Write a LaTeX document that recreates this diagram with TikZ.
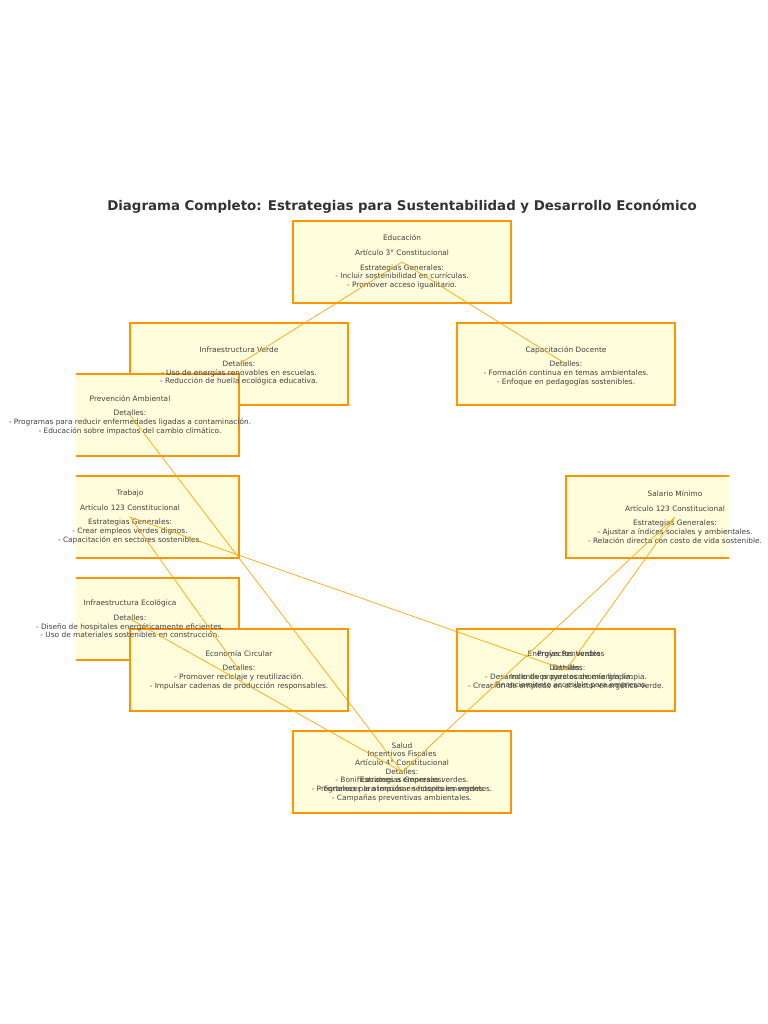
\documentclass[tikz,border=0pt]{standalone}
\usepackage{fontspec}
\setmainfont{DejaVu Sans}
\begin{document}
\begin{tikzpicture}[x=0.03cm,y=-0.03cm,
 box/.style={draw=orange!85!yellow,line width=1.1pt,fill=yellow!14,minimum width=6.54cm,minimum height=2.46cm,inner sep=0pt},
 txt/.style={align=center,font=\fontsize{6.3}{7.4}\selectfont,text=black!75},
 link/.style={draw=orange!70!yellow,line width=0.6pt}]
\useasboundingbox (0,0) rectangle (768,1024);
\node[font=\bfseries\fontsize{11.4}{13}\selectfont,text=black!80] (title) at (402,207) {Diagrama Completo: Estrategias para Sustentabilidad y Desarrollo Económico};
\begin{scope}
\clip (76,150) rectangle (729,900);
\node[box] (edu) at (402,262) {};
\node[box] (infv) at (239,364) {};
\node[box] (cap) at (566,364) {};
\node[box] (prev) at (130,415) {};
\node[box] (trab) at (130,517) {};
\node[box] (sal) at (675,517) {};
\node[box] (infe) at (130,619) {};
\node[box] (econ) at (239,670) {};
\node[box] (ener) at (566,670) {};
\node[box] (salud) at (402,772) {};
\end{scope}
\node[txt] at (402,262) {Educación\\[5pt] Artículo 3° Constitucional\\[5pt] Estrategias Generales:\\- Incluir sostenibilidad en currículas.\\- Promover acceso igualitario.};
\node[txt] at (239,366) {Infraestructura Verde\\[5pt] Detalles:\\- Uso de energías renovables en escuelas.\\- Reducción de huella ecológica educativa.};
\node[txt] at (566,366) {Capacitación Docente\\[5pt] Detalles:\\- Formación continua en temas ambientales.\\- Enfoque en pedagogías sostenibles.};
\node[txt] at (130,415) {Prevención Ambiental\\[5pt] Detalles:\\- Programas para reducir enfermedades ligadas a contaminación.\\- Educación sobre impactos del cambio climático.};
\node[txt] at (130,517) {Trabajo\\[5pt] Artículo 123 Constitucional\\[5pt] Estrategias Generales:\\- Crear empleos verdes dignos.\\- Capacitación en sectores sostenibles.};
\node[txt] at (675,517) {Salario Mínimo\\[5pt] Artículo 123 Constitucional\\[5pt] Estrategias Generales:\\- Ajustar a índices sociales y ambientales.\\- Relación directa con costo de vida sostenible.};
\node[txt] at (130,619) {Infraestructura Ecológica\\[5pt] Detalles:\\- Diseño de hospitales energéticamente eficientes.\\- Uso de materiales sostenibles en construcción.};
\node[txt] at (239,670) {Economía Circular\\[5pt] Detalles:\\- Promover reciclaje y reutilización.\\- Impulsar cadenas de producción responsables.};
\node[txt] at (566,670) {Energías Renovables\\[5pt] Detalles:\\- Desarrollo de proyectos de energía limpia.\\- Creación de empleos en el sector energético verde.};
\node[txt] at (569,670) {Proyectos Verdes\\[5pt] Detalles:\\- Incentivos para economía limpia.\\- Financiamiento accesible para empresas.};
\node[txt] at (402,772) {Salud\\Incentivos Fiscales\\Artículo 4° Constitucional\\Detalles:\\- Bonificaciones a empresas verdes.\\- Programas para impulsar sectores emergentes.\\- Campañas preventivas ambientales.};
\node[txt] at (402,768) {\phantom{X}\\\phantom{X}\\\phantom{X}\\\phantom{X}\\Estrategias Generales:\\- Fortalecer la atención en hospitales verdes.};
\draw[link] (edu.center) -- (infv.center);
\draw[link] (edu.center) -- (cap.center);
\draw[link] (prev.center) -- (salud.center);
\draw[link] (trab.center) -- (ener.center);
\draw[link] (trab.center) -- (econ.center);
\draw[link] (infe.center) -- (salud.center);
\draw[link] (sal.center) -- (ener.center);
\draw[link] (sal.center) -- (salud.center);
\end{tikzpicture}
\end{document}
